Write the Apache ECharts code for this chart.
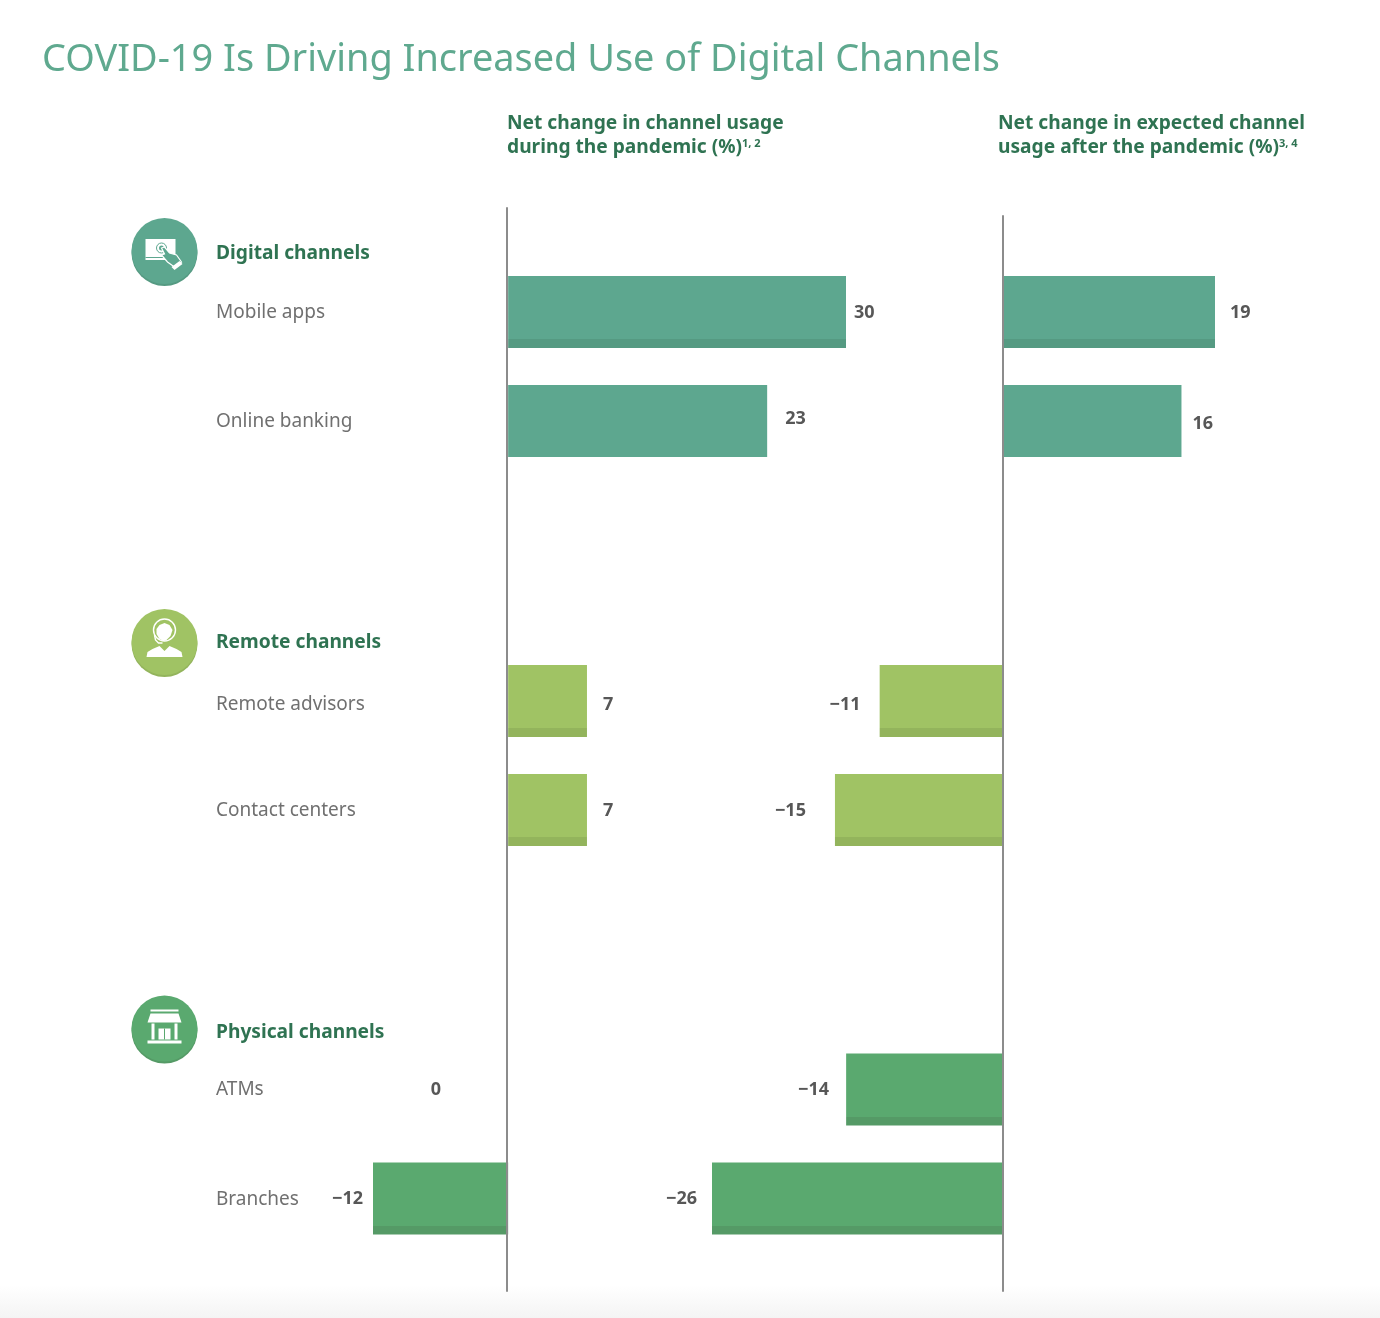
<!DOCTYPE html>
<html>
<head>
<meta charset="utf-8">
<title>COVID-19 Is Driving Increased Use of Digital Channels</title>
<script src="https://cdn.jsdelivr.net/npm/echarts@6/dist/echarts.min.js"></script>
<style>
  html, body { margin: 0; padding: 0; background: #fff; }
  #vis { width: 1380px; height: 1318px; }
</style>
</head>
<body>
<div id="vis"></div>
<script>
// data
const chartTitle = 'COVID-19 Is Driving Increased Use of Digital Channels'
const groupNames = ['Digital channels', 'Remote channels', 'Physical channels']
const digitalCategories = ['Mobile apps', 'Online banking']
const remoteCategories = ['Remote advisors', 'Contact centers']
const physicalCategories = ['ATMs', 'Branches']
const digitalDuring = [30, 23]
const digitalAfter = [19, 16]
const remoteDuring = [7, 7]
const remoteAfter = [-11, -15]
const physicalDuring = [0, -12]
const physicalAfter = [-14, -26]

const FONT = '"Noto Sans", sans-serif'
const HEAD_GREEN = '#2f7352'
const groupColors = [
  { base: '#5da78f', dark: '#559a82' },
  { base: '#a0c364', dark: '#93b45c' },
  { base: '#5aa96f', dark: '#559a66' }
]
// grid tops, so that each pair of bars sits on its row
const groupTops = [257.5, 646.5, 1035]
const GROUP_HEIGHT = 218
const panels = [
  { left: 373, width: 473, min: -12, max: 30 },
  { left: 712, width: 503, min: -26, max: 19 }
]
// label gap from the bar end and vertical nudge, [panel][group][row]
const labelGaps = [
  [[[8, 1], [18, -2]], [[16, 4], [16, 1]], [[67, 0], [10, 0]]],
  [[[15, 1], [11, 3]], [[19, 4], [29, 1]], [[17, 0], [15, 0]]]
]
// extra top padding on the row names, moves the text down by half of it
const rowNamePadding = [[2, 2], [8, 2], [0, 2]]
const stripeRows = [[true, false], [true, true], [true, true]]

const categories = [digitalCategories, remoteCategories, physicalCategories]
const values = [
  [digitalDuring, remoteDuring, physicalDuring],
  [digitalAfter, remoteAfter, physicalAfter]
]

function barFill (group, striped) {
  const c = groupColors[group]
  if (!striped) return c.base
  return new echarts.graphic.LinearGradient(0, 0, 0, 1, [
    { offset: 0, color: c.base },
    { offset: 0.875, color: c.base },
    { offset: 0.875, color: c.dark },
    { offset: 1, color: c.dark }
  ])
}

const grid = []
const xAxis = []
const yAxis = []
const series = []

panels.forEach((panel, p) => {
  categories.forEach((cats, g) => {
    const idx = grid.length
    const nameStyle = pad => ({ fontFamily: FONT, fontSize: 19, color: '#707070', padding: [pad, 0, 0, 0] })
    grid.push({ left: panel.left, width: panel.width, top: groupTops[g], height: GROUP_HEIGHT })
    xAxis.push({ type: 'value', gridIndex: idx, min: panel.min, max: panel.max, show: false })
    yAxis.push({
      type: 'category',
      gridIndex: idx,
      inverse: true,
      data: cats,
      axisLine: { show: false },
      axisTick: { show: false },
      axisLabel: {
        show: p === 0,
        align: 'left',
        margin: panel.left - 216,
        fontFamily: FONT,
        fontSize: 19,
        color: '#707070',
        formatter: (name, r) => `{r${r}|${name}}`,
        rich: { r0: nameStyle(rowNamePadding[g][0]), r1: nameStyle(rowNamePadding[g][1]) }
      }
    })
    series.push({
      type: 'bar',
      xAxisIndex: idx,
      yAxisIndex: idx,
      barWidth: 72,
      data: values[p][g].map((v, r) => ({
        value: v,
        itemStyle: { color: barFill(g, stripeRows[g][r]) },
        label: {
          show: true,
          position: v > 0 ? 'right' : 'left',
          distance: labelGaps[p][g][r][0],
          offset: [0, labelGaps[p][g][r][1]],
          formatter: String(v).replace('-', '\u2212'),
          fontFamily: FONT,
          fontSize: 18,
          fontWeight: 'bold',
          color: '#575757'
        }
      }))
    })
  })
})

// the two full height zero lines
const baselines = [
  { top: 208, left: panels[0].left - 1, panel: panels[0] },
  { top: 216, left: panels[1].left, panel: panels[1] }
]
baselines.forEach(b => {
  const idx = grid.length
  grid.push({ left: b.left, width: b.panel.width, top: b.top, height: 1291 - b.top })
  xAxis.push({ type: 'value', gridIndex: idx, min: b.panel.min, max: b.panel.max, show: false })
  yAxis.push({
    type: 'value',
    gridIndex: idx,
    min: 0,
    max: 1,
    z: 6,
    splitLine: { show: false },
    axisTick: { show: false },
    axisLabel: { show: false },
    axisLine: { show: true, onZero: true, lineStyle: { color: '#8c8c8c', width: 2 } }
  })
})

const headStyle = {
  fontFamily: FONT,
  fontSize: 19.2,
  fontWeight: 'bold',
  color: HEAD_GREEN,
  lineHeight: 24,
  rich: {
    s: { fontFamily: FONT, fontSize: 11, fontWeight: 'bold', color: HEAD_GREEN, padding: [0, 0, 8, 0] }
  }
}

const title = [
  {
    text: chartTitle,
    left: 42,
    top: 41,
    padding: 0,
    textStyle: { fontFamily: FONT, fontSize: 37.9, fontWeight: 'normal', color: '#5fa98f' }
  },
  { text: 'Net change in channel usage\nduring the pandemic (%){s|1, 2}', left: 507, top: 112, padding: 0, textStyle: headStyle },
  { text: 'Net change in expected channel\nusage after the pandemic (%){s|3, 4}', left: 998, top: 112, padding: 0, textStyle: headStyle }
].concat(groupNames.map((name, i) => ({
  text: name,
  left: 216,
  top: [240, 629, 1019][i],
  padding: 0,
  textStyle: { fontFamily: FONT, fontSize: 19.2, fontWeight: 'bold', color: HEAD_GREEN, lineHeight: 28 }
})))

// icon badges
function badge (cy, g, children) {
  return {
    type: 'group',
    x: 164.5,
    y: cy,
    children: [
      { type: 'circle', shape: { r: 33 }, y: 1, style: { fill: groupColors[g].dark } },
      { type: 'circle', shape: { r: 33 }, y: -1, style: { fill: groupColors[g].base } }
    ].concat(children)
  }
}

const WHITE = { fill: '#fff' }
const digitalIcon = [
  { type: 'rect', shape: { x: -19, y: -13, width: 30, height: 21 }, style: { fill: '#fff' } },
  { type: 'rect', shape: { x: -19, y: 5, width: 30, height: 1 }, style: { fill: '#5da78f' } },
  { type: 'circle', shape: { r: 5 }, x: -3, y: -4, style: { fill: 'none', stroke: '#5da78f', lineWidth: 1 } },
  { type: 'circle', shape: { r: 2.5 }, x: -3, y: -4, style: { fill: '#5da78f' } },
  { type: 'polygon', shape: { points: [[-3, -4], [0, -5], [5, 1], [12, 3], [17, 10], [10, 15], [3, 10], [-3, 3], [0, 2]] }, style: { fill: '#5da78f', stroke: '#fff', lineWidth: 1.2 } },
  { type: 'polygon', shape: { points: [[7, 15], [15, 9], [18, 12], [10, 18]] }, style: WHITE }
]
const remoteIcon = [
  { type: 'circle', shape: { r: 11 }, y: -13, style: { fill: 'none', stroke: '#fff', lineWidth: 1.4 } },
  { type: 'polygon', shape: { points: [[-8, -14], [-5, -18], [0, -20], [5, -18], [8, -13], [6, -7], [2, -3], [-1, -2], [-5, -4], [-8, -9]] }, style: WHITE },
  { type: 'polyline', shape: { points: [[-10, -8], [-9, -3], [-6, 0], [-2, 0]] }, style: { fill: 'none', stroke: '#fff', lineWidth: 1.4 } },
  { type: 'polygon', shape: { points: [[-18, 14], [-17, 9], [-12, 6], [-5, 3], [0, 8], [5, 3], [12, 6], [17, 9], [18, 14]] }, style: WHITE }
]
const physicalIcon = [
  { type: 'rect', shape: { x: -14, y: -20, width: 28, height: 2 }, style: WHITE },
  { type: 'polygon', shape: { points: [[-14, -16], [14, -16], [17, -7], [-17, -7]] }, style: WHITE },
  { type: 'rect', shape: { x: -13, y: -6, width: 3, height: 16 }, style: WHITE },
  { type: 'rect', shape: { x: 10, y: -6, width: 3, height: 16 }, style: WHITE },
  { type: 'rect', shape: { x: -6, y: -1, width: 12, height: 11 }, style: WHITE },
  { type: 'rect', shape: { x: -0.5, y: -1, width: 1, height: 11 }, style: { fill: '#5aa96f' } },
  { type: 'rect', shape: { x: -17, y: 11, width: 34, height: 3 }, style: WHITE }
]

const chart = echarts.init(document.getElementById('vis'), null, { renderer: 'canvas' })
chart.setOption({
  animation: false,
  backgroundColor: '#fff',
  title,
  grid,
  xAxis,
  yAxis,
  series,
  graphic: [
    {
      type: 'rect',
      silent: true,
      z: -1,
      shape: { x: 0, y: 1285, width: 1380, height: 33 },
      style: {
        fill: new echarts.graphic.LinearGradient(0, 0, 0, 1, [
          { offset: 0, color: '#ffffff' },
          { offset: 1, color: '#f4f4f4' }
        ])
      }
    },
    badge(252, 0, digitalIcon),
    badge(643, 1, remoteIcon),
    badge(1029.5, 2, physicalIcon)
  ]
})
window.addEventListener('resize', () => chart.resize())
</script>
</body>
</html>
